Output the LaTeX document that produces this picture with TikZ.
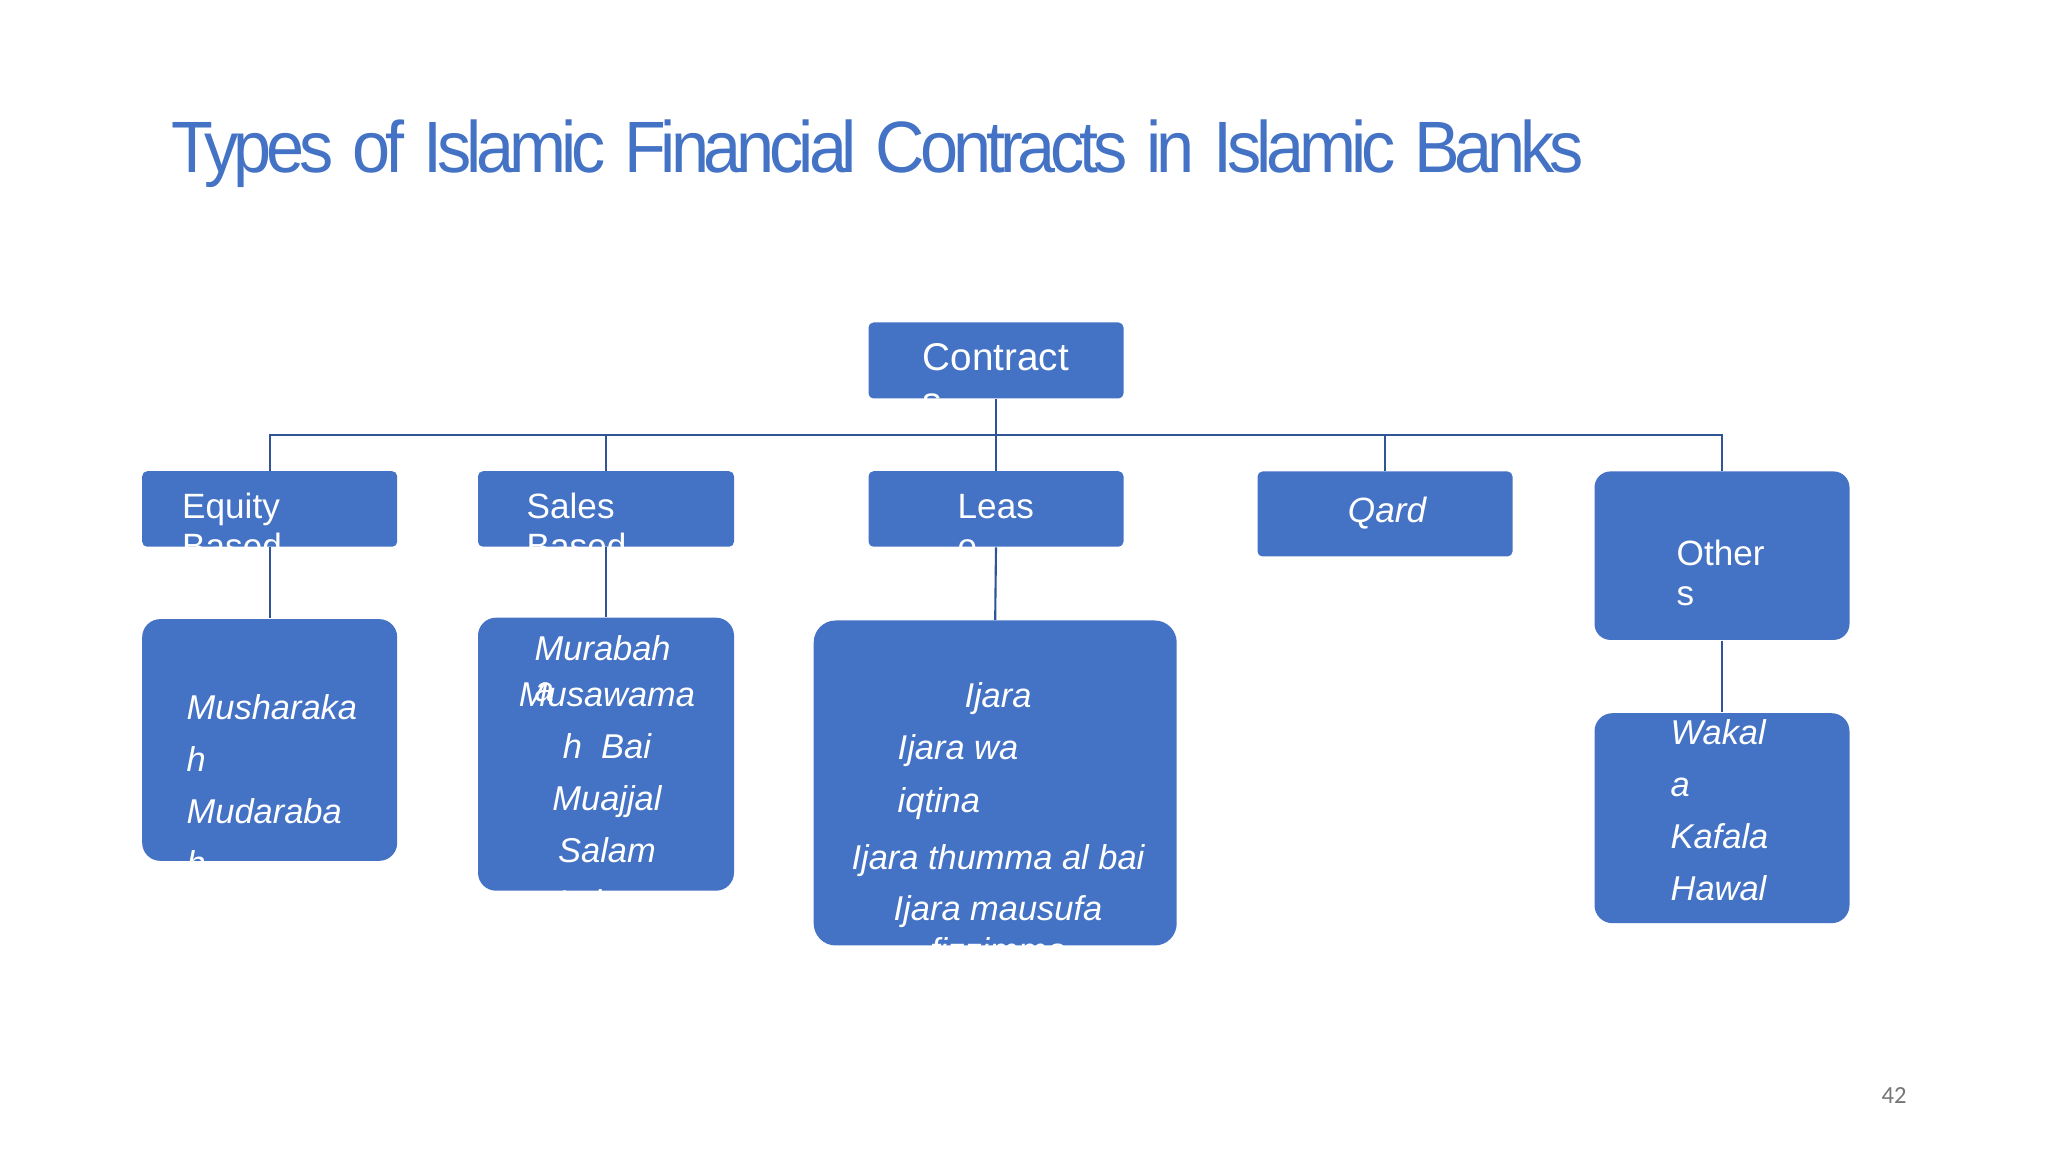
\documentclass[tikz,border=0pt]{standalone}
\usepackage{fontspec}
\setmainfont{Liberation Sans}
\newfontfamily\titlefont[FakeStretch=0.94,LetterSpace=-7,WordSpace=1.35]{Liberation Sans}
\newfontfamily\pagefont{Carlito}
\definecolor{boxblue}{RGB}{68,114,196}
\definecolor{linkblue}{RGB}{47,85,151}
\definecolor{pagegray}{RGB}{118,118,118}
\newcommand{\txtrows}[2]{\begin{tabular}[t]{@{}#1@{}}#2\end{tabular}}

\begin{document}
\begin{tikzpicture}[
  catbox/.style={rectangle,rounded corners=0.5mm,fill=boxblue,inner sep=0pt},
  subbox/.style={rectangle,rounded corners=1.8mm,fill=boxblue,inner sep=0pt},
  cattext/.style={inner sep=0pt,text=white,font=\fontsize{10}{11.5}\selectfont},
  subtext/.style={inner sep=0pt,text=white,font=\fontsize{9.8}{14.8}\selectfont\itshape},
  link/.style={draw=linkblue,line width=0.6pt}
]
  \useasboundingbox (0,0) rectangle (20.48,11.52);
  \fill[white] (0,0) rectangle (20.48,11.52);

  \node[font={\titlefont\fontsize{20.7}{24}\selectfont},text=boxblue,anchor=base west,inner sep=0pt] (title) at (1.71,9.796) {Types of Islamic Financial Contracts in Islamic Banks};

  % top level
  \node[catbox,minimum width=2.55cm,minimum height=0.76cm] (contract) at (9.96,7.915) {};
  \begin{scope}
    \clip[rounded corners=0.5mm] (contract.south west) rectangle (contract.north east);
    \node[cattext,font=\fontsize{11}{12.5}\selectfont,anchor=base west] (contracttext) at (9.22,7.81) {\txtrows{l}{Contract\\s}};
  \end{scope}

  % categories
  \node[catbox,minimum width=2.55cm,minimum height=0.755cm] (equity) at (2.697,6.43) {};
  \node[catbox,minimum width=2.56cm,minimum height=0.755cm] (sales) at (6.06,6.43) {};
  \node[catbox,minimum width=2.55cm,minimum height=0.755cm] (lease) at (9.96,6.43) {};
  \node[catbox,minimum width=2.55cm,minimum height=0.85cm] (qard) at (13.85,6.38) {};
  \node[catbox,rounded corners=1.6mm,minimum width=2.55cm,minimum height=1.685cm] (others) at (17.22,5.963) {};
  \begin{scope}
    \clip (equity.south west) rectangle (equity.north east)
          (sales.south west) rectangle (sales.north east)
          (lease.south west) rectangle (lease.north east);
    \node[cattext,anchor=base west] (equitytext) at (1.815,6.335) {\txtrows{l}{Equity\\Based}};
    \node[cattext,anchor=base west] (salestext) at (5.26,6.335) {\txtrows{l}{Sales\\Based}};
    \node[cattext,anchor=base west] (leasetext) at (9.57,6.335) {\txtrows{l}{Leas\\e}};
  \end{scope}
  \node[cattext,font=\fontsize{10}{11.5}\selectfont\itshape,anchor=base] (qardtext) at (13.87,6.296) {Qard};
  \node[cattext,anchor=base west] (otherstext) at (16.76,5.865) {\txtrows{l}{Other\\s}};

  % contract lists
  \node[subbox,minimum width=2.55cm,minimum height=2.417cm] (equitysub) at (2.697,4.12) {};
  \node[subbox,minimum width=2.56cm,minimum height=2.73cm] (salessub) at (6.06,3.978) {};
  \node[subbox,rounded corners=2.2mm,minimum width=3.63cm,minimum height=3.25cm] (leasesub) at (9.952,3.69) {};
  \node[subbox,minimum width=2.55cm,minimum height=2.10cm] (otherssub) at (17.22,3.338) {};
  \begin{scope}
    \clip (equitysub.south west) rectangle (equitysub.north east)
          (salessub.south west) rectangle (salessub.north east)
          (leasesub.south west) rectangle (leasesub.north east);
    \node[subtext,anchor=base west] (equitysubtext) at (1.86,4.324) {\txtrows{l}{Musharaka\\h\\Mudaraba\\h}};
    \node[subtext,font=\fontsize{9.8}{11.5}\selectfont\itshape,anchor=base west] (murabahatext) at (5.34,4.912) {\txtrows{l}{Murabah\\a}};
    \node[subtext,anchor=base] (salessubtext) at (6.07,4.455) {\txtrows{c}{Musawama\\h\ \ Bai\\Muajjal\\Salam\\Istisna}};
    \node[subtext,anchor=base] (ijaratext) at (9.98,4.441) {Ijara};
    \node[subtext,anchor=base west] (iqtinatext) at (8.97,3.92) {\txtrows{l}{Ijara wa\\iqtina}};
    \node[subtext,anchor=base] (thummatext) at (9.98,2.822) {Ijara thumma al bai};
    \node[subtext,font=\fontsize{9.8}{11.9}\selectfont\itshape,anchor=base] (mausufatext) at (9.98,2.313) {\txtrows{c}{Ijara mausufa\\fizzimma}};
  \end{scope}
  \node[subtext,anchor=base west] (otherssubtext) at (16.70,4.076) {\txtrows{l}{Wakal\\a\\Kafala\\Hawal}};

  \coordinate (bus) at (9.96,7.17);
  \draw[link] (contract.south) -- (lease.north);
  \draw[link] (equity.north) |- (bus) -| (others.north);
  \draw[link] (sales.north) -- (sales.north |- bus);
  \draw[link] (qard.north) -- (qard.north |- bus);
  \draw[link] (equity.south) -- (equitysub.north);
  \draw[link] (sales.south) -- (salessub.north);
  \draw[link] (lease.south) -- (leasesub.north);
  \draw[link] (others.south) -- (otherssub.north);

  \node[font={\pagefont\fontsize{7}{8}\selectfont},text=pagegray,anchor=base,inner sep=0pt] (pagenum) at (18.94,0.484) {42};
\end{tikzpicture}
\end{document}
